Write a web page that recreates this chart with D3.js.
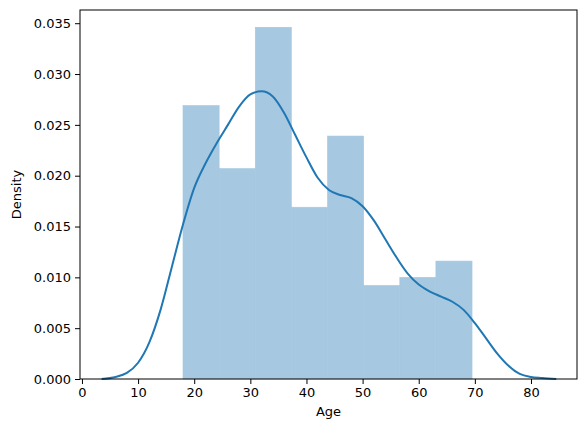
<!DOCTYPE html><html><head><script src="https://d3js.org/d3.v7.min.js"></script>
<style>body{margin:0;background:#fff}text{font-family:"DejaVu Sans",sans-serif}</style></head><body>
<script>
const binEdges=[18,24.44,30.88,37.31,43.75,50.19,56.63,63.06,69.5];
const binDensity=[0.0269,0.0207,0.0346,0.0169,0.0239,0.0092,0.0100,0.0116];
const kdeX=[3.5,6,8,10,12,14,16,18,20,22,24,26,28,30,32,34,36,38,40,42,44,46,48,50,52,54,56,58,60,62,64,66,68,70,72,74,76,78,80,82,84.5];
const kdeY=[0.0000,0.0002,0.0006,0.0016,0.0036,0.0068,0.0110,0.0152,0.0188,0.0212,0.0232,0.0250,0.0268,0.0280,0.0283,0.0278,0.0262,0.0240,0.0218,0.0198,0.0186,0.0181,0.0178,0.0170,0.0156,0.0138,0.0120,0.0104,0.0093,0.0086,0.0081,0.0076,0.0068,0.0055,0.0040,0.0025,0.0013,0.0005,0.0002,0.0001,0.0000];
const xTicks=[0,10,20,30,40,50,60,70,80];
const yTicks=[0,0.005,0.01,0.015,0.02,0.025,0.03,0.035];
const L=80,R=577,T=10,B=379;
const svg=d3.select("body").append("svg").attr("width",584).attr("height",432);
const x=d3.scaleLinear().domain([-0.35,88.2]).range([L,R]);
const y=d3.scaleLinear().domain([0,0.0363]).range([B,T]);
svg.selectAll("rect.bar").data(binDensity).enter().append("rect")
 .attr("x",(d,i)=>x(binEdges[i])).attr("width",(d,i)=>x(binEdges[i+1])-x(binEdges[i]))
 .attr("y",d=>y(d)).attr("height",d=>B-y(d)).attr("fill","#a6c8e0").attr("stroke","#a6c8e0").attr("stroke-width",0.6);
svg.append("path").datum(kdeX.map((v,i)=>[v,kdeY[i]])).attr("fill","none").attr("stroke","#1f77b4").attr("stroke-width",2)
 .attr("d",d3.line().x(d=>x(d[0])).y(d=>y(d[1])).curve(d3.curveMonotoneX));
const xa=svg.append("g").attr("transform",`translate(0,${B})`).call(d3.axisBottom(x).tickValues(xTicks).tickSize(5).tickPadding(4));
const ya=svg.append("g").attr("transform",`translate(${L},0)`).call(d3.axisLeft(y).tickValues(yTicks).tickFormat(d3.format(".3f")).tickSize(5).tickPadding(4));
[xa,ya].forEach(a=>{a.select(".domain").remove();a.selectAll("text").attr("font-size",13).attr("fill","#000").attr("font-family","DejaVu Sans");a.selectAll("line").attr("stroke","#000")});
svg.append("rect").attr("x",L).attr("y",T).attr("width",R-L).attr("height",B-T).attr("fill","none").attr("stroke","#000").attr("stroke-width",1);
svg.append("text").attr("x",(L+R)/2).attr("y",416).attr("text-anchor","middle").attr("font-size",13).text("Age");
svg.append("text").attr("transform",`translate(21,${(T+B)/2}) rotate(-90)`).attr("text-anchor","middle").attr("font-size",13).text("Density");
</script></body></html>
